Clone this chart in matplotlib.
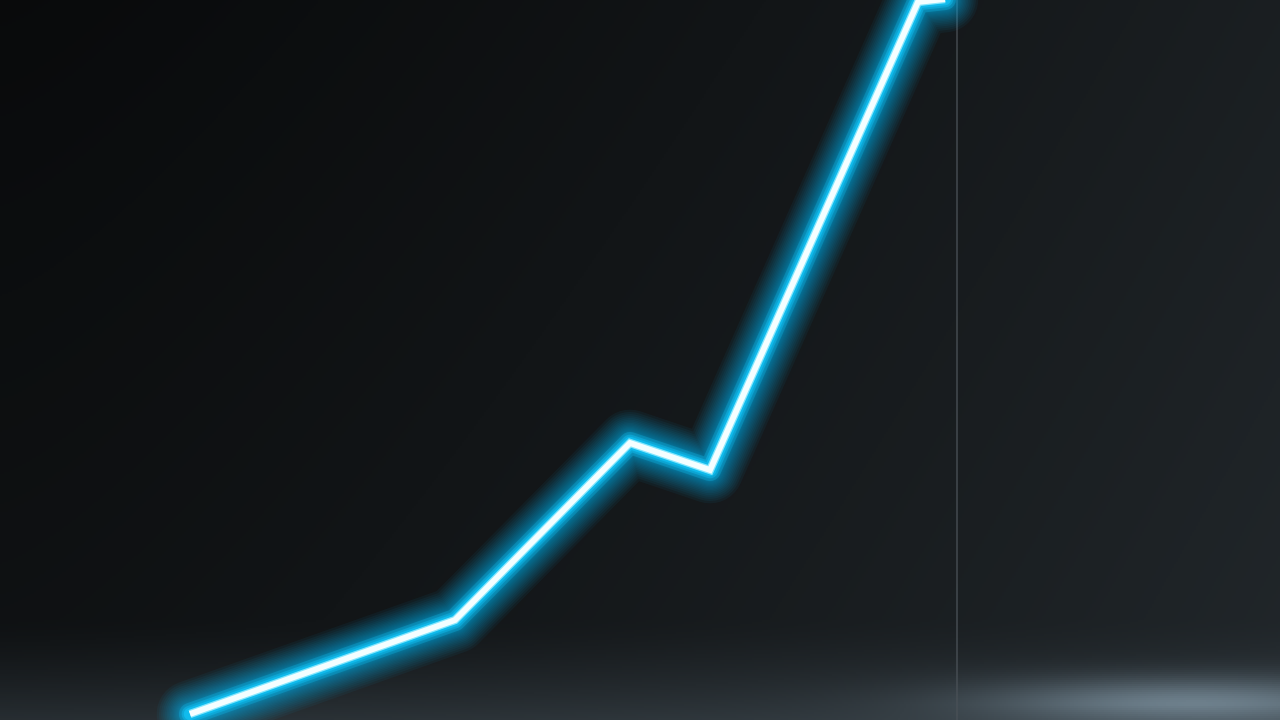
import matplotlib
matplotlib.use("Agg")
import matplotlib.pyplot as plt
import numpy as np

# data (arbitrary units)
x_vals = [1.90, 4.55, 6.30, 7.10, 9.18, 9.45]
y_vals = [0.06, 1.00, 2.77, 2.50, 7.18, 7.21]
marker_x = 9.57

fig = plt.figure(figsize=(12.8, 7.2), dpi=100)
ax = fig.add_axes([0, 0, 1, 1])
ax.set_xlim(0, 12.8)
ax.set_ylim(0, 7.2)
ax.axis("off")

# background: dark gradient, lighter towards the right and along the bottom
h, w = 360, 640
yy, xx = np.mgrid[0:1:h * 1j, 0:1:w * 1j]
base = 0.04 + 0.075 * xx ** 1.3 + 0.03 * yy
band = np.clip((yy - 0.86) / 0.14, 0, 1) ** 1.5
glow = np.exp(-((xx - 0.93) / 0.16) ** 2) * np.clip((yy - 0.9) / 0.08, 0, 1) ** 1.3
glow *= np.exp(-((yy - 0.965) / 0.04) ** 2)
lum = base + 0.10 * band + 0.30 * glow
rgb = np.stack([lum * 0.9, lum * 1.05, lum * 1.15], axis=-1)
rgb = np.clip(rgb, 0, 1)
ax.imshow(rgb, extent=[0, 12.8, 0, 7.2], origin="upper", aspect="auto", zorder=0)

ax.axvline(marker_x, color="#4a5157", linewidth=1.2, alpha=0.8, zorder=1)

# glow layers (soft, round joins)
soft = dict(solid_joinstyle="round", solid_capstyle="round")
for lw in np.geomspace(48, 6, 30):
    ax.plot(x_vals, y_vals, color="#06b6f2", linewidth=lw, alpha=0.055, zorder=2, **soft)
for lw, a in [(16, 0.25), (12, 0.35), (9, 0.55)]:
    ax.plot(x_vals, y_vals, color="#14c8fa", linewidth=lw, alpha=a, zorder=3, **soft)
ax.plot(x_vals, y_vals, color="#8aeaff", linewidth=6, alpha=0.95, zorder=3,
        solid_joinstyle="miter", solid_capstyle="butt")
ax.plot(x_vals, y_vals, color="#f4feff", linewidth=4.2, zorder=4,
        solid_joinstyle="miter", solid_capstyle="butt")

fig.savefig("out.png", dpi=100)
